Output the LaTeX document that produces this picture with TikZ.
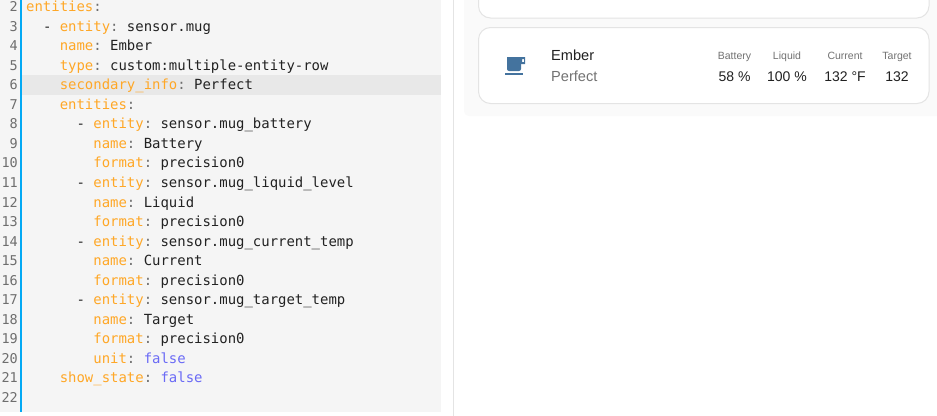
\documentclass[tikz,border=0pt]{standalone}
\usepackage{xcolor}
\usepackage{fontspec}
\setmainfont{Liberation Sans}
\setmonofont{DejaVu Sans Mono}
\usepackage{tikz}
\frenchspacing
\definecolor{keycol}{HTML}{FFA726}
\definecolor{boolcol}{HTML}{6A6AF5}
\definecolor{codecol}{HTML}{222222}
\definecolor{numcol}{HTML}{6E6E6E}
\definecolor{mugcol}{HTML}{44739E}
\definecolor{barcol}{HTML}{03A9F4}
\definecolor{darktext}{HTML}{212121}
\definecolor{greytext}{HTML}{727272}
\definecolor{cardline}{HTML}{E4E4E4}
\newcommand{\yk}[1]{\textcolor{keycol}{#1}\textcolor{numcol}{:}}
\newcommand{\yb}[1]{\textcolor{boolcol}{#1}}
\tikzset{
  codeline/.style={anchor=base west,inner sep=0pt,text=codecol,font=\ttfamily\fontsize{13.95}{16}\selectfont},
  linenum/.style={anchor=base east,inner sep=0pt,text=numcol,font=\ttfamily\fontsize{13.5}{16}\selectfont},
  card/.style={draw=cardline,line width=1pt,fill=white,rounded corners=12pt},
  rowtitle/.style={anchor=base west,inner sep=0pt,font=\fontsize{14.6}{16}\selectfont},
  collabel/.style={anchor=base,inner sep=0pt,text=greytext,font=\fontsize{10.5}{12}\selectfont},
  colvalue/.style={anchor=base,inner sep=0pt,text=darktext,font=\fontsize{14}{16}\selectfont}
}
\begin{document}
\begin{tikzpicture}[x=1pt,y=-1pt]
  \clip (0,0) rectangle (937,415);
  \fill[white] (0,0) rectangle (937,415);
  % editor
  \fill[black!4] (0,0) rectangle (441,412);
  \fill[black!9] (22,75) rectangle (441,95);
  \fill[barcol] (20,0) rectangle (22,412);
  \foreach \n/\lvl/\code in {
    2/0/{\yk{entities}},
    3/2/{- \yk{entity} sensor.mug},
    4/4/{\yk{name} Ember},
    5/4/{\yk{type} custom:multiple-entity-row},
    6/4/{\yk{secondary\_info} Perfect},
    7/4/{\yk{entities}},
    8/6/{- \yk{entity} sensor.mug\_battery},
    9/8/{\yk{name} Battery},
    10/8/{\yk{format} precision0},
    11/6/{- \yk{entity} sensor.mug\_liquid\_level},
    12/8/{\yk{name} Liquid},
    13/8/{\yk{format} precision0},
    14/6/{- \yk{entity} sensor.mug\_current\_temp},
    15/8/{\yk{name} Current},
    16/8/{\yk{format} precision0},
    17/6/{- \yk{entity} sensor.mug\_target\_temp},
    18/8/{\yk{name} Target},
    19/8/{\yk{format} precision0},
    20/8/{\yk{unit} \yb{false}},
    21/4/{\yk{show\_state} \yb{false}},
    22/0/{}}{
    \pgfmathsetmacro{\liney}{11.5+(\n-2)*19.55}
    \pgfmathsetmacro{\linex}{26+\lvl*8.4}
    \node[linenum] (num\n) at (18,\liney) {\n};
    \node[codeline] (line\n) at (\linex,\liney) {\code};
  }
  % preview
  \draw[cardline] (453.5,-5) -- (453.5,420);
  \fill[black!2,rounded corners=5pt] (464,-20) rectangle (960,116);
  \draw[card] (478.5,-30) rectangle (929,18);
  \draw[card] (478.5,27.5) rectangle (929,103.5);
  % mug
  \fill[mugcol,rounded corners=2pt] (507,57) -- (521,57) -- (521,71) -- (507,71) -- cycle;
  \fill[mugcol] (507,57) rectangle (521,62);
  \fill[mugcol,even odd rule] (520,57) rectangle (525,64) (522,59) rectangle (524,62);
  \fill[mugcol] (505,73) rectangle (523,75);
  \node[rowtitle,text=darktext] (title) at (551,60) {Ember};
  \node[rowtitle,text=greytext] (subtitle) at (551,81) {Perfect};
  \foreach \nm/\cx/\lab/\val in {bat/734.5/Battery/58 \%,liq/787/Liquid/100 \%,cur/845/Current/132 °F,tar/897/Target/132}{
    \node[collabel] (lab\nm) at (\cx,59.5) {\lab};
    \node[colvalue] (val\nm) at (\cx,81) {\val};
  }
\end{tikzpicture}
\end{document}
